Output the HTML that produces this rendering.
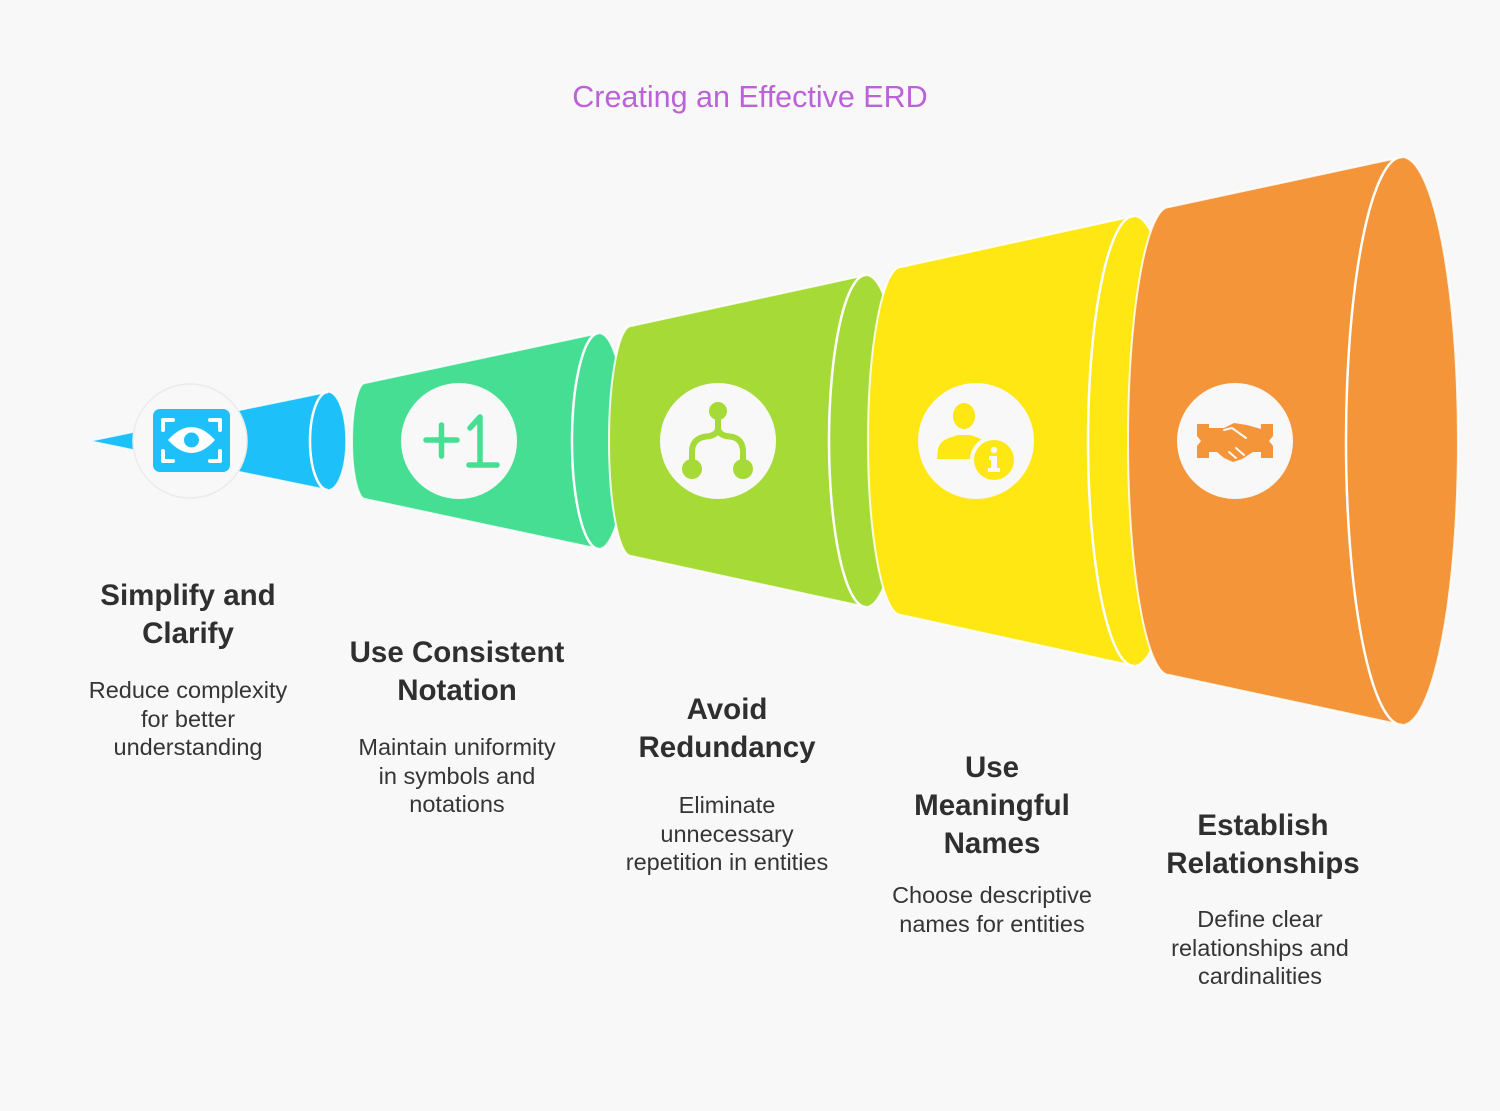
<!DOCTYPE html>
<html>
<head>
<meta charset="utf-8">
<style>
  html, body { margin: 0; padding: 0; background: #f8f8f8; }
  body { width: 1500px; height: 1111px; overflow: hidden; }
  svg { display: block; }
  .h { font-family: "Liberation Sans", Arial, sans-serif; font-weight: bold; font-size: 29.5px; fill: #2f2f2f; text-anchor: middle; }
  .d { font-family: "Liberation Sans", Arial, sans-serif; font-size: 23.5px; fill: #353535; text-anchor: middle; }
  .t { font-family: "Liberation Sans", Arial, sans-serif; font-size: 30.5px; fill: #bb62d8; text-anchor: middle; }
</style>
</head>
<body>
<svg width="1500" height="1111" viewBox="0 0 1500 1111" xmlns="http://www.w3.org/2000/svg">
  <rect x="0" y="0" width="1500" height="1111" fill="#f8f8f8"/>

  <!-- Title -->
  <text class="t" x="750" y="107">Creating an Effective ERD</text>

  <!-- Blue cone -->
  <path d="M90,441 L328,392 A18,49 0 0 1 328,490 Z" fill="#1ec0f9" stroke="#ffffff" stroke-opacity="0.8" stroke-width="1.5" stroke-linejoin="round"/>
  <path d="M328,392 A18,49 0 0 0 328,490" fill="none" stroke="#ffffff" stroke-width="2.5"/>

  <!-- Green -->
  <path d="M365,383 L599,333 A27,108 0 0 1 599,549 L365,499 A13,58 0 0 1 365,383 Z" fill="#45de93" stroke="#ffffff" stroke-opacity="0.85" stroke-width="2" stroke-linejoin="round"/>
  <path d="M599,333 A27,108 0 0 0 599,549" fill="none" stroke="#ffffff" stroke-width="2.5"/>

  <!-- Lime -->
  <path d="M631,326 L866,275 A37,166 0 0 1 866,607 L631,556 A22,115 0 0 1 631,326 Z" fill="#a6da37" stroke="#ffffff" stroke-opacity="0.85" stroke-width="2" stroke-linejoin="round"/>
  <path d="M866,275 A37,166 0 0 0 866,607" fill="none" stroke="#ffffff" stroke-width="2.5"/>

  <!-- Yellow -->
  <path d="M901,267 L1134,216 A46,225 0 0 1 1134,666 L901,615 A33,174 0 0 1 901,267 Z" fill="#ffe714" stroke="#ffffff" stroke-opacity="0.85" stroke-width="2" stroke-linejoin="round"/>
  <path d="M1134,216 A46,225 0 0 0 1134,666" fill="none" stroke="#ffffff" stroke-width="2.5"/>

  <!-- Orange -->
  <path d="M1169,207 L1402,157 A56,284 0 0 1 1402,725 L1169,675 A41,234 0 0 1 1169,207 Z" fill="#f59539" stroke="#ffffff" stroke-opacity="0.85" stroke-width="2" stroke-linejoin="round"/>
  <path d="M1402,157 A56,284 0 0 0 1402,725" fill="none" stroke="#ffffff" stroke-width="2.5"/>

  <!-- Icon circles -->
  <circle cx="190" cy="441" r="57" fill="#f8f8f8" stroke="#ebebeb" stroke-width="1.5"/>
  <circle cx="459" cy="441" r="58" fill="#f8f8f8"/>
  <circle cx="718" cy="441" r="58" fill="#f8f8f8"/>
  <circle cx="976" cy="441" r="58" fill="#f8f8f8"/>
  <circle cx="1235" cy="441" r="58" fill="#f8f8f8"/>

  <!-- Eye icon -->
  <rect x="153" y="409" width="77" height="63" rx="7" fill="#1ec0f9"/>
  <g fill="none" stroke="#ffffff" stroke-width="4" stroke-linecap="round" stroke-linejoin="round">
    <path d="M163,430 L163,420 L173,420"/>
    <path d="M210,420 L220,420 L220,430"/>
    <path d="M163,451 L163,461 L173,461"/>
    <path d="M210,461 L220,461 L220,451"/>
  </g>
  <path d="M168,440 Q191.5,414 215,440 Q191.5,466 168,440 Z" fill="#ffffff"/>
  <circle cx="191.5" cy="440" r="7.5" fill="#1ec0f9"/>

  <!-- +1 icon -->
  <g fill="none" stroke="#45de93" stroke-width="5.5" stroke-linecap="round" stroke-linejoin="round">
    <path d="M426,440 H457"/>
    <path d="M441.5,425 V456"/>
    <path d="M470,428 L480,417 V465"/>
    <path d="M469,465 H497"/>
  </g>

  <!-- Branch icon -->
  <g fill="none" stroke="#a6da37" stroke-width="6" stroke-linecap="round" stroke-linejoin="round">
    <path d="M718,411 V428 Q718,434 710,436 L703,437 Q692,440 692,452 V469"/>
    <path d="M718,428 Q718,434 726,436 L733,437 Q743,440 743,452 V469"/>
  </g>
  <circle cx="718" cy="411" r="9" fill="#a6da37"/>
  <circle cx="692" cy="469" r="10" fill="#a6da37"/>
  <circle cx="743" cy="469" r="10" fill="#a6da37"/>

  <!-- Person + info icon -->
  <ellipse cx="964" cy="416" rx="11" ry="13" fill="#ffe714"/>
  <path d="M937,459 L938,449 Q940,440 952,437 L958,435 L970,435 L976,437 Q986,440 990,448 L990,459 Z" fill="#ffe714"/>
  <circle cx="994" cy="460" r="22" fill="#ffe714" stroke="#f8f8f8" stroke-width="4"/>
  <circle cx="994" cy="450" r="3.2" fill="#f8f8f8"/>
  <path d="M989,456 H997 V468 H1000 V472 H988 V468 H991 V460 H989 Z" fill="#f8f8f8"/>

  <!-- Handshake icon -->
  <g fill="#f59539">
    <path d="M1197,424 H1209 V458 H1197 V446 L1201,441 L1197,436 Z"/>
    <path d="M1273,424 H1261 V458 H1273 V446 L1269,441 L1273,436 Z"/>
    <path d="M1209,428 L1224,428 L1234,423 L1247,425 L1261,429 L1261,452 L1253,452 L1242,459 L1233,462 L1224,458 L1217,452 L1209,452 Z"/>
  </g>
  <g fill="none" stroke="#f8f8f8" stroke-width="2" stroke-linecap="round">
    <path d="M1224,430 L1232,428 L1246,438"/>
    <path d="M1236,448 L1244,455"/>
    <path d="M1229,452 L1236,458"/>
  </g>

  <!-- Group 1 -->
  <text class="h" x="188" y="605">Simplify and</text>
  <text class="h" x="188" y="643">Clarify</text>
  <text class="d" x="188" y="698">Reduce complexity</text>
  <text class="d" x="188" y="727">for better</text>
  <text class="d" x="188" y="755">understanding</text>

  <!-- Group 2 -->
  <text class="h" x="457" y="662">Use Consistent</text>
  <text class="h" x="457" y="700">Notation</text>
  <text class="d" x="457" y="755">Maintain uniformity</text>
  <text class="d" x="457" y="784">in symbols and</text>
  <text class="d" x="457" y="812">notations</text>

  <!-- Group 3 -->
  <text class="h" x="727" y="719">Avoid</text>
  <text class="h" x="727" y="757">Redundancy</text>
  <text class="d" x="727" y="813">Eliminate</text>
  <text class="d" x="727" y="842">unnecessary</text>
  <text class="d" x="727" y="870">repetition in entities</text>

  <!-- Group 4 -->
  <text class="h" x="992" y="777">Use</text>
  <text class="h" x="992" y="815">Meaningful</text>
  <text class="h" x="992" y="853">Names</text>
  <text class="d" x="992" y="903">Choose descriptive</text>
  <text class="d" x="992" y="932">names for entities</text>

  <!-- Group 5 -->
  <text class="h" x="1263" y="835">Establish</text>
  <text class="h" x="1263" y="873">Relationships</text>
  <text class="d" x="1260" y="927">Define clear</text>
  <text class="d" x="1260" y="956">relationships and</text>
  <text class="d" x="1260" y="984">cardinalities</text>
</svg>
</body>
</html>
